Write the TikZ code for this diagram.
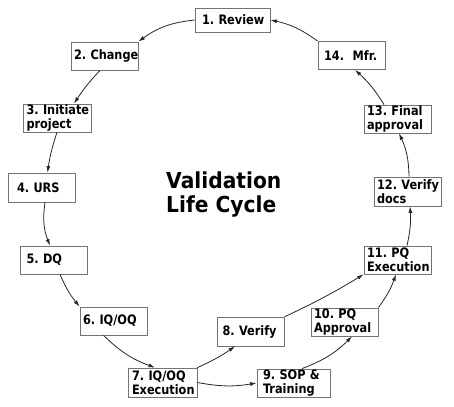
\documentclass[tikz,border=0pt]{standalone}
\usepackage{fontspec}
\setmainfont{DejaVu Sans}[FakeStretch=0.87]
\newfontfamily\titlefont{DejaVu Sans}[FakeStretch=0.92]
\usetikzlibrary{arrows.meta}
\newcommand\bline[1]{\rlap{#1}}
\frenchspacing
\begin{document}
\begin{tikzpicture}[x=1pt,y=-1pt,
  box/.style={draw=black!55, line width=0.8pt, fill=white, minimum width=#1, minimum height=28pt,
    inner xsep=3pt, inner ysep=0pt, text width=61pt, align=left,
    font=\bfseries\fontsize{13}{14}\selectfont},
  box/.default=67pt,
  arr/.style={draw=black!85, line width=0.8pt, -{Latex[length=6.5pt,width=4pt]}},
  title/.style={anchor=north west, inner sep=0pt, align=left,
    font=\titlefont\bfseries\fontsize{22}{24}\selectfont}]
\useasboundingbox (0,0) rectangle (454,406);
\node[box=75pt, minimum height=24pt] (n1) at (232.5,20) {\bline{1. Review}};
\node[box] (n2) at (104.5,56) {\bline{2. Change}};
\node[box=68pt] (n3) at (57,118) {\bline{3. Initiate}\\\bline{project}};
\node[box, minimum height=29pt] (n4) at (41.5,187.5) {\bline{\hspace{6pt}4. URS}};
\node[box=66pt] (n5) at (54,260) {\bline{\hspace{3pt}5. DQ}};
\node[box] (n6) at (113.5,321) {\bline{6. IQ/OQ}};
\node[box=69pt, minimum height=29pt] (n7) at (162.5,382.5) {\bline{7. IQ/OQ}\\\bline{Execution}};
\node[box=66pt, minimum height=29pt] (n8) at (251,331.5) {\bline{\hspace{2pt}8. Verify}};
\node[box=73pt] (n9) at (293.5,383) {\bline{9. SOP \&}\\\bline{Training}};
\node[box] (n10) at (344.5,322) {\bline{10. PQ}\\\bline{Approval}};
\node[box] (n11) at (397.5,260) {\bline{11. PQ}\\\bline{Execution}};
\node[box, minimum height=29pt] (n12) at (407.5,191.5) {\bline{12. Verify}\\\bline{docs}};
\node[box] (n13) at (397.5,119) {\bline{13. Final}\\\bline{approval}};
\node[box] (n14) at (351.5,55.5) {\bline{\hspace{3pt}14.\ \ Mfr.}};
\node[title] (t) at (166,172) {Validation\\Life Cycle};
\draw[arr] (n1.west) to[bend right=15] (n2.north east);
\draw[arr] ([xshift=-4.5pt]n2.south) to[bend right=5] ([xshift=17pt]n3.north);
\draw[arr] (n3.south) to[bend right=5] ([xshift=6pt]n4.north);
\draw[arr] ([xshift=3.5pt]n4.south) to[bend right=15] ([xshift=-4pt]n5.north);
\draw[arr] ([xshift=6pt]n5.south) to[bend right=8] (n6.north west);
\draw[arr] ([xshift=-10pt]n6.south) to[bend right=12] ([xshift=-7.5pt]n7.north);
\draw[arr] (n7.north east) to[bend right=5] ([xshift=-16pt]n8.south);
\draw[arr] (n7.east) to[bend right=10] (n9.west);
\draw[arr] ([xshift=8.5pt]n9.north) to[bend right=12] ([xshift=7.5pt]n10.south);
\draw[arr] (n10.north east) to[bend right=8] ([xshift=-1.5pt]n11.south);
\draw[arr] (n8.north east) to[bend right=3] (n11.south west);
\draw[arr] ([xshift=9.5pt]n11.north) to[bend right=8] ([xshift=2.5pt]n12.south);
\draw[arr] ([xshift=1.5pt]n12.north) to[bend right=12] ([xshift=1.5pt]n13.south);
\draw[arr] ([xshift=-13.5pt]n13.north) to[bend right=8] ([xshift=3.5pt]n14.south);
\draw[arr] (n14.north west) to[bend right=12] (n1.east);
\end{tikzpicture}
\end{document}
